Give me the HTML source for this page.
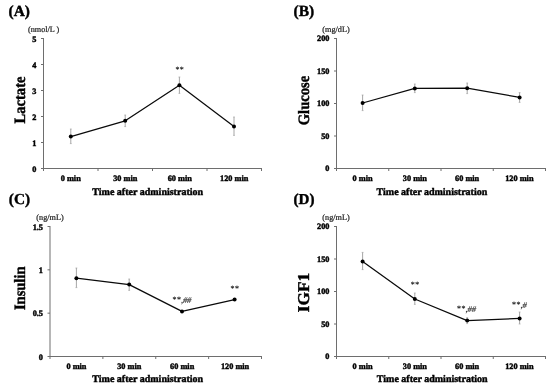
<!DOCTYPE html>
<html><head><meta charset="utf-8"><title>Figure</title>
<style>html,body{margin:0;padding:0;background:#fff}svg{display:block;font-family:'Liberation Serif', serif}</style></head>
<body><svg width="550" height="387" viewBox="0 0 550 387" text-rendering="geometricPrecision" font-family="'Liberation Serif', serif">
<rect width="550" height="387" fill="#fff"/>
<line x1="43.5" y1="38.0" x2="43.5" y2="171.0" stroke="#6e6e6e" stroke-width="1"/>
<line x1="41.0" y1="168.5" x2="262.0" y2="168.5" stroke="#6e6e6e" stroke-width="1"/>
<text x="36.5" y="171.7" font-size="8.3" font-weight="bold" text-anchor="end" fill="#000" stroke="#000" stroke-width="0.42" >0</text>
<line x1="41.0" y1="142.5" x2="43.5" y2="142.5" stroke="#6e6e6e" stroke-width="1"/>
<text x="36.5" y="145.7" font-size="8.3" font-weight="bold" text-anchor="end" fill="#000" stroke="#000" stroke-width="0.42" >1</text>
<line x1="41.0" y1="116.5" x2="43.5" y2="116.5" stroke="#6e6e6e" stroke-width="1"/>
<text x="36.5" y="119.7" font-size="8.3" font-weight="bold" text-anchor="end" fill="#000" stroke="#000" stroke-width="0.42" >2</text>
<line x1="41.0" y1="90.5" x2="43.5" y2="90.5" stroke="#6e6e6e" stroke-width="1"/>
<text x="36.5" y="93.7" font-size="8.3" font-weight="bold" text-anchor="end" fill="#000" stroke="#000" stroke-width="0.42" >3</text>
<line x1="41.0" y1="64.5" x2="43.5" y2="64.5" stroke="#6e6e6e" stroke-width="1"/>
<text x="36.5" y="67.7" font-size="8.3" font-weight="bold" text-anchor="end" fill="#000" stroke="#000" stroke-width="0.42" >4</text>
<line x1="41.0" y1="38.5" x2="43.5" y2="38.5" stroke="#6e6e6e" stroke-width="1"/>
<text x="36.5" y="41.7" font-size="8.3" font-weight="bold" text-anchor="end" fill="#000" stroke="#000" stroke-width="0.42" >5</text>
<line x1="98.0" y1="168.5" x2="98.0" y2="171.0" stroke="#6e6e6e" stroke-width="1"/>
<line x1="152.5" y1="168.5" x2="152.5" y2="171.0" stroke="#6e6e6e" stroke-width="1"/>
<line x1="207.0" y1="168.5" x2="207.0" y2="171.0" stroke="#6e6e6e" stroke-width="1"/>
<line x1="261.5" y1="168.5" x2="261.5" y2="171.0" stroke="#6e6e6e" stroke-width="1"/>
<text x="70.75" y="181" font-size="8.3" font-weight="bold" text-anchor="middle" fill="#000" stroke="#000" stroke-width="0.42" >0 min</text>
<text x="125.25" y="181" font-size="8.3" font-weight="bold" text-anchor="middle" fill="#000" stroke="#000" stroke-width="0.42" >30 min</text>
<text x="179.75" y="181" font-size="8.3" font-weight="bold" text-anchor="middle" fill="#000" stroke="#000" stroke-width="0.42" >60 min</text>
<text x="234.25" y="181" font-size="8.3" font-weight="bold" text-anchor="middle" fill="#000" stroke="#000" stroke-width="0.42" >120 min</text>
<text x="147.7" y="194.7" font-size="10.0" font-weight="bold" text-anchor="middle" fill="#000" stroke="#000" stroke-width="0.42" >Time after administration</text>
<text x="8.6" y="15.5" font-size="15.4" font-weight="bold" text-anchor="start" fill="#000" stroke="#000" stroke-width="0.42" >(A)</text>
<text x="43.6" y="32" font-size="8.2" font-weight="normal" text-anchor="middle" fill="#222" stroke="#222" stroke-width="0.22" >(nmol/L )</text>
<text transform="translate(24.8,100) rotate(-90)" font-size="15.8" textLength="46.9" lengthAdjust="spacingAndGlyphs" font-weight="bold" text-anchor="middle" fill="#000" stroke="#000" stroke-width="0.42">Lactate</text>
<line x1="70.8" y1="129" x2="70.8" y2="143.6" stroke="#9c9c9c" stroke-width="0.9"/>
<line x1="69.89999999999999" y1="129" x2="71.7" y2="129" stroke="#a4a4a4" stroke-width="0.7"/>
<line x1="69.89999999999999" y1="143.6" x2="71.7" y2="143.6" stroke="#a4a4a4" stroke-width="0.7"/>
<line x1="125.2" y1="115" x2="125.2" y2="126.6" stroke="#9c9c9c" stroke-width="0.9"/>
<line x1="124.3" y1="115" x2="126.10000000000001" y2="115" stroke="#a4a4a4" stroke-width="0.7"/>
<line x1="124.3" y1="126.6" x2="126.10000000000001" y2="126.6" stroke="#a4a4a4" stroke-width="0.7"/>
<line x1="179.4" y1="77" x2="179.4" y2="93.4" stroke="#9c9c9c" stroke-width="0.9"/>
<line x1="178.5" y1="77" x2="180.3" y2="77" stroke="#a4a4a4" stroke-width="0.7"/>
<line x1="178.5" y1="93.4" x2="180.3" y2="93.4" stroke="#a4a4a4" stroke-width="0.7"/>
<line x1="234" y1="117" x2="234" y2="135.4" stroke="#9c9c9c" stroke-width="0.9"/>
<line x1="233.1" y1="117" x2="234.9" y2="117" stroke="#a4a4a4" stroke-width="0.7"/>
<line x1="233.1" y1="135.4" x2="234.9" y2="135.4" stroke="#a4a4a4" stroke-width="0.7"/>
<polyline points="70.8,136.6 125.2,120.8 179.4,85.2 234,126.4" fill="none" stroke="#0a0a0a" stroke-width="1.25" stroke-linejoin="round"/>
<circle cx="70.8" cy="136.6" r="2.0" fill="#000"/>
<circle cx="125.2" cy="120.8" r="2.0" fill="#000"/>
<circle cx="179.4" cy="85.2" r="2.0" fill="#000"/>
<circle cx="234" cy="126.4" r="2.0" fill="#000"/>
<text x="175.4" y="72.1" font-size="7.9" font-weight="normal" fill="#222" stroke="#222" stroke-width="0.18" letter-spacing="0.5">**</text>
<line x1="336.5" y1="38.0" x2="336.5" y2="171.0" stroke="#6e6e6e" stroke-width="1"/>
<line x1="334.0" y1="168.5" x2="546.0" y2="168.5" stroke="#6e6e6e" stroke-width="1"/>
<text x="329.5" y="171.2" font-size="8.3" font-weight="bold" text-anchor="end" fill="#000" stroke="#000" stroke-width="0.42" >0</text>
<line x1="334.0" y1="136.0" x2="336.5" y2="136.0" stroke="#6e6e6e" stroke-width="1"/>
<text x="329.5" y="138.7" font-size="8.3" font-weight="bold" text-anchor="end" fill="#000" stroke="#000" stroke-width="0.42" >50</text>
<line x1="334.0" y1="103.5" x2="336.5" y2="103.5" stroke="#6e6e6e" stroke-width="1"/>
<text x="329.5" y="106.2" font-size="8.3" font-weight="bold" text-anchor="end" fill="#000" stroke="#000" stroke-width="0.42" >100</text>
<line x1="334.0" y1="71.0" x2="336.5" y2="71.0" stroke="#6e6e6e" stroke-width="1"/>
<text x="329.5" y="73.7" font-size="8.3" font-weight="bold" text-anchor="end" fill="#000" stroke="#000" stroke-width="0.42" >150</text>
<line x1="334.0" y1="38.5" x2="336.5" y2="38.5" stroke="#6e6e6e" stroke-width="1"/>
<text x="329.5" y="41.2" font-size="8.3" font-weight="bold" text-anchor="end" fill="#000" stroke="#000" stroke-width="0.42" >200</text>
<line x1="388.75" y1="168.5" x2="388.75" y2="171.0" stroke="#6e6e6e" stroke-width="1"/>
<line x1="441.0" y1="168.5" x2="441.0" y2="171.0" stroke="#6e6e6e" stroke-width="1"/>
<line x1="493.25" y1="168.5" x2="493.25" y2="171.0" stroke="#6e6e6e" stroke-width="1"/>
<line x1="545.5" y1="168.5" x2="545.5" y2="171.0" stroke="#6e6e6e" stroke-width="1"/>
<text x="362.625" y="181" font-size="8.3" font-weight="bold" text-anchor="middle" fill="#000" stroke="#000" stroke-width="0.42" >0 min</text>
<text x="414.875" y="181" font-size="8.3" font-weight="bold" text-anchor="middle" fill="#000" stroke="#000" stroke-width="0.42" >30 min</text>
<text x="467.125" y="181" font-size="8.3" font-weight="bold" text-anchor="middle" fill="#000" stroke="#000" stroke-width="0.42" >60 min</text>
<text x="519.375" y="181" font-size="8.3" font-weight="bold" text-anchor="middle" fill="#000" stroke="#000" stroke-width="0.42" >120 min</text>
<text x="431.9" y="194.7" font-size="10.0" font-weight="bold" text-anchor="middle" fill="#000" stroke="#000" stroke-width="0.42" >Time after administration</text>
<text x="293.5" y="15.6" font-size="15.5" font-weight="bold" text-anchor="start" fill="#000" stroke="#000" stroke-width="0.42" >(B)</text>
<text x="336" y="32" font-size="8.2" font-weight="normal" text-anchor="middle" fill="#222" stroke="#222" stroke-width="0.22" >(mg/dL)</text>
<text transform="translate(308.8,100.5) rotate(-90)" font-size="15.8" textLength="49.5" lengthAdjust="spacingAndGlyphs" font-weight="bold" text-anchor="middle" fill="#000" stroke="#000" stroke-width="0.42">Glucose</text>
<line x1="362.6" y1="95" x2="362.6" y2="110.6" stroke="#9c9c9c" stroke-width="0.9"/>
<line x1="361.70000000000005" y1="95" x2="363.5" y2="95" stroke="#a4a4a4" stroke-width="0.7"/>
<line x1="361.70000000000005" y1="110.6" x2="363.5" y2="110.6" stroke="#a4a4a4" stroke-width="0.7"/>
<line x1="414.8" y1="84" x2="414.8" y2="92.6" stroke="#9c9c9c" stroke-width="0.9"/>
<line x1="413.90000000000003" y1="84" x2="415.7" y2="84" stroke="#a4a4a4" stroke-width="0.7"/>
<line x1="413.90000000000003" y1="92.6" x2="415.7" y2="92.6" stroke="#a4a4a4" stroke-width="0.7"/>
<line x1="467.2" y1="83" x2="467.2" y2="93.6" stroke="#9c9c9c" stroke-width="0.9"/>
<line x1="466.3" y1="83" x2="468.09999999999997" y2="83" stroke="#a4a4a4" stroke-width="0.7"/>
<line x1="466.3" y1="93.6" x2="468.09999999999997" y2="93.6" stroke="#a4a4a4" stroke-width="0.7"/>
<line x1="519.6" y1="92.6" x2="519.6" y2="102.4" stroke="#9c9c9c" stroke-width="0.9"/>
<line x1="518.7" y1="92.6" x2="520.5" y2="92.6" stroke="#a4a4a4" stroke-width="0.7"/>
<line x1="518.7" y1="102.4" x2="520.5" y2="102.4" stroke="#a4a4a4" stroke-width="0.7"/>
<polyline points="362.6,103 414.8,88.4 467.2,88.2 519.6,97.4" fill="none" stroke="#0a0a0a" stroke-width="1.25" stroke-linejoin="round"/>
<circle cx="362.6" cy="103" r="2.0" fill="#000"/>
<circle cx="414.8" cy="88.4" r="2.0" fill="#000"/>
<circle cx="467.2" cy="88.2" r="2.0" fill="#000"/>
<circle cx="519.6" cy="97.4" r="2.0" fill="#000"/>
<line x1="50" y1="226.0" x2="50" y2="359.0" stroke="#6e6e6e" stroke-width="1"/>
<line x1="47.5" y1="356.5" x2="262.0" y2="356.5" stroke="#6e6e6e" stroke-width="1"/>
<text x="43" y="359.7" font-size="8.3" font-weight="bold" text-anchor="end" fill="#000" stroke="#000" stroke-width="0.42" >0</text>
<line x1="47.5" y1="313.1666666666667" x2="50" y2="313.1666666666667" stroke="#6e6e6e" stroke-width="1"/>
<text x="43" y="316.3666666666667" font-size="8.3" font-weight="bold" text-anchor="end" fill="#000" stroke="#000" stroke-width="0.42" >0.5</text>
<line x1="47.5" y1="269.8333333333333" x2="50" y2="269.8333333333333" stroke="#6e6e6e" stroke-width="1"/>
<text x="43" y="273.0333333333333" font-size="8.3" font-weight="bold" text-anchor="end" fill="#000" stroke="#000" stroke-width="0.42" >1</text>
<line x1="47.5" y1="226.5" x2="50" y2="226.5" stroke="#6e6e6e" stroke-width="1"/>
<text x="43" y="229.7" font-size="8.3" font-weight="bold" text-anchor="end" fill="#000" stroke="#000" stroke-width="0.42" >1.5</text>
<line x1="102.875" y1="356.5" x2="102.875" y2="359.0" stroke="#6e6e6e" stroke-width="1"/>
<line x1="155.75" y1="356.5" x2="155.75" y2="359.0" stroke="#6e6e6e" stroke-width="1"/>
<line x1="208.625" y1="356.5" x2="208.625" y2="359.0" stroke="#6e6e6e" stroke-width="1"/>
<line x1="261.5" y1="356.5" x2="261.5" y2="359.0" stroke="#6e6e6e" stroke-width="1"/>
<text x="76.4375" y="368.6" font-size="8.3" font-weight="bold" text-anchor="middle" fill="#000" stroke="#000" stroke-width="0.42" >0 min</text>
<text x="129.3125" y="368.6" font-size="8.3" font-weight="bold" text-anchor="middle" fill="#000" stroke="#000" stroke-width="0.42" >30 min</text>
<text x="182.1875" y="368.6" font-size="8.3" font-weight="bold" text-anchor="middle" fill="#000" stroke="#000" stroke-width="0.42" >60 min</text>
<text x="235.0625" y="368.6" font-size="8.3" font-weight="bold" text-anchor="middle" fill="#000" stroke="#000" stroke-width="0.42" >120 min</text>
<text x="147.7" y="382" font-size="10.0" font-weight="bold" text-anchor="middle" fill="#000" stroke="#000" stroke-width="0.42" >Time after administration</text>
<text x="8.8" y="203.6" font-size="15.3" font-weight="bold" text-anchor="start" fill="#000" stroke="#000" stroke-width="0.42" >(C)</text>
<text x="50" y="220" font-size="8.2" font-weight="normal" text-anchor="middle" fill="#222" stroke="#222" stroke-width="0.22" >(ng/mL)</text>
<text transform="translate(25.0,288.3) rotate(-90)" font-size="15.8" textLength="43.6" lengthAdjust="spacingAndGlyphs" font-weight="bold" text-anchor="middle" fill="#000" stroke="#000" stroke-width="0.42">Insulin</text>
<line x1="76.4" y1="268" x2="76.4" y2="287.6" stroke="#9c9c9c" stroke-width="0.9"/>
<line x1="75.5" y1="268" x2="77.30000000000001" y2="268" stroke="#a4a4a4" stroke-width="0.7"/>
<line x1="75.5" y1="287.6" x2="77.30000000000001" y2="287.6" stroke="#a4a4a4" stroke-width="0.7"/>
<line x1="129.2" y1="279" x2="129.2" y2="290.4" stroke="#9c9c9c" stroke-width="0.9"/>
<line x1="128.29999999999998" y1="279" x2="130.1" y2="279" stroke="#a4a4a4" stroke-width="0.7"/>
<line x1="128.29999999999998" y1="290.4" x2="130.1" y2="290.4" stroke="#a4a4a4" stroke-width="0.7"/>
<polyline points="76.4,278.2 129.2,284.6 182,311.4 234.6,299.6" fill="none" stroke="#0a0a0a" stroke-width="1.25" stroke-linejoin="round"/>
<circle cx="76.4" cy="278.2" r="2.0" fill="#000"/>
<circle cx="129.2" cy="284.6" r="2.0" fill="#000"/>
<circle cx="182" cy="311.4" r="2.0" fill="#000"/>
<circle cx="234.6" cy="299.6" r="2.0" fill="#000"/>
<text x="172.5" y="302.1" font-size="7.9" font-weight="normal" fill="#222" stroke="#222" stroke-width="0.18" letter-spacing="0.5">**</text>
<text x="181.0" y="302.5" font-size="8.2" font-weight="bold" fill="#333">,</text>
<text x="183.0" y="302.5" font-size="8.6" font-style="italic" fill="#4a4a4a" stroke="#4a4a4a" stroke-width="0.22" letter-spacing="-0.2">##</text>
<text x="230.5" y="291.1" font-size="7.9" font-weight="normal" fill="#222" stroke="#222" stroke-width="0.18" letter-spacing="0.5">**</text>
<line x1="336.5" y1="226.0" x2="336.5" y2="359.0" stroke="#6e6e6e" stroke-width="1"/>
<line x1="334.0" y1="356.5" x2="546.0" y2="356.5" stroke="#6e6e6e" stroke-width="1"/>
<text x="329.5" y="359.2" font-size="8.3" font-weight="bold" text-anchor="end" fill="#000" stroke="#000" stroke-width="0.42" >0</text>
<line x1="334.0" y1="324.0" x2="336.5" y2="324.0" stroke="#6e6e6e" stroke-width="1"/>
<text x="329.5" y="326.7" font-size="8.3" font-weight="bold" text-anchor="end" fill="#000" stroke="#000" stroke-width="0.42" >50</text>
<line x1="334.0" y1="291.5" x2="336.5" y2="291.5" stroke="#6e6e6e" stroke-width="1"/>
<text x="329.5" y="294.2" font-size="8.3" font-weight="bold" text-anchor="end" fill="#000" stroke="#000" stroke-width="0.42" >100</text>
<line x1="334.0" y1="259.0" x2="336.5" y2="259.0" stroke="#6e6e6e" stroke-width="1"/>
<text x="329.5" y="261.7" font-size="8.3" font-weight="bold" text-anchor="end" fill="#000" stroke="#000" stroke-width="0.42" >150</text>
<line x1="334.0" y1="226.5" x2="336.5" y2="226.5" stroke="#6e6e6e" stroke-width="1"/>
<text x="329.5" y="229.2" font-size="8.3" font-weight="bold" text-anchor="end" fill="#000" stroke="#000" stroke-width="0.42" >200</text>
<line x1="388.75" y1="356.5" x2="388.75" y2="359.0" stroke="#6e6e6e" stroke-width="1"/>
<line x1="441.0" y1="356.5" x2="441.0" y2="359.0" stroke="#6e6e6e" stroke-width="1"/>
<line x1="493.25" y1="356.5" x2="493.25" y2="359.0" stroke="#6e6e6e" stroke-width="1"/>
<line x1="545.5" y1="356.5" x2="545.5" y2="359.0" stroke="#6e6e6e" stroke-width="1"/>
<text x="362.625" y="368.6" font-size="8.3" font-weight="bold" text-anchor="middle" fill="#000" stroke="#000" stroke-width="0.42" >0 min</text>
<text x="414.875" y="368.6" font-size="8.3" font-weight="bold" text-anchor="middle" fill="#000" stroke="#000" stroke-width="0.42" >30 min</text>
<text x="467.125" y="368.6" font-size="8.3" font-weight="bold" text-anchor="middle" fill="#000" stroke="#000" stroke-width="0.42" >60 min</text>
<text x="519.375" y="368.6" font-size="8.3" font-weight="bold" text-anchor="middle" fill="#000" stroke="#000" stroke-width="0.42" >120 min</text>
<text x="432.2" y="382" font-size="10.0" font-weight="bold" text-anchor="middle" fill="#000" stroke="#000" stroke-width="0.42" >Time after administration</text>
<text x="293.5" y="203.6" font-size="15.1" font-weight="bold" text-anchor="start" fill="#000" stroke="#000" stroke-width="0.42" >(D)</text>
<text x="336" y="220" font-size="8.2" font-weight="normal" text-anchor="middle" fill="#222" stroke="#222" stroke-width="0.22" >(ng/mL)</text>
<text transform="translate(309,292.5) rotate(-90)" font-size="16.5" textLength="39.3" lengthAdjust="spacingAndGlyphs" font-weight="bold" text-anchor="middle" fill="#000" stroke="#000" stroke-width="0.42">IGF1</text>
<line x1="362.6" y1="252.4" x2="362.6" y2="269.6" stroke="#9c9c9c" stroke-width="0.9"/>
<line x1="361.70000000000005" y1="252.4" x2="363.5" y2="252.4" stroke="#a4a4a4" stroke-width="0.7"/>
<line x1="361.70000000000005" y1="269.6" x2="363.5" y2="269.6" stroke="#a4a4a4" stroke-width="0.7"/>
<line x1="414.8" y1="293" x2="414.8" y2="304.4" stroke="#9c9c9c" stroke-width="0.9"/>
<line x1="413.90000000000003" y1="293" x2="415.7" y2="293" stroke="#a4a4a4" stroke-width="0.7"/>
<line x1="413.90000000000003" y1="304.4" x2="415.7" y2="304.4" stroke="#a4a4a4" stroke-width="0.7"/>
<line x1="467.2" y1="317.6" x2="467.2" y2="323.6" stroke="#9c9c9c" stroke-width="0.9"/>
<line x1="466.3" y1="317.6" x2="468.09999999999997" y2="317.6" stroke="#a4a4a4" stroke-width="0.7"/>
<line x1="466.3" y1="323.6" x2="468.09999999999997" y2="323.6" stroke="#a4a4a4" stroke-width="0.7"/>
<line x1="519.6" y1="312" x2="519.6" y2="324" stroke="#9c9c9c" stroke-width="0.9"/>
<line x1="518.7" y1="312" x2="520.5" y2="312" stroke="#a4a4a4" stroke-width="0.7"/>
<line x1="518.7" y1="324" x2="520.5" y2="324" stroke="#a4a4a4" stroke-width="0.7"/>
<polyline points="362.6,261.4 414.8,299 467.2,320.6 519.6,318.4" fill="none" stroke="#0a0a0a" stroke-width="1.25" stroke-linejoin="round"/>
<circle cx="362.6" cy="261.4" r="2.0" fill="#000"/>
<circle cx="414.8" cy="299" r="2.0" fill="#000"/>
<circle cx="467.2" cy="320.6" r="2.0" fill="#000"/>
<circle cx="519.6" cy="318.4" r="2.0" fill="#000"/>
<text x="410.8" y="287.1" font-size="7.9" font-weight="normal" fill="#222" stroke="#222" stroke-width="0.18" letter-spacing="0.5">**</text>
<text x="457.1" y="311.1" font-size="7.9" font-weight="normal" fill="#222" stroke="#222" stroke-width="0.18" letter-spacing="0.5">**</text>
<text x="465.6" y="311.5" font-size="8.2" font-weight="bold" fill="#333">,</text>
<text x="467.6" y="311.5" font-size="8.6" font-style="italic" fill="#4a4a4a" stroke="#4a4a4a" stroke-width="0.22" letter-spacing="-0.2">##</text>
<text x="512.1" y="307.20000000000005" font-size="7.9" font-weight="normal" fill="#222" stroke="#222" stroke-width="0.18" letter-spacing="0.5">**</text>
<text x="520.6" y="307.6" font-size="8.2" font-weight="bold" fill="#333">,</text>
<text x="522.6" y="307.6" font-size="8.6" font-style="italic" fill="#4a4a4a" stroke="#4a4a4a" stroke-width="0.22" letter-spacing="-0.2">#</text>
</svg></body></html>
